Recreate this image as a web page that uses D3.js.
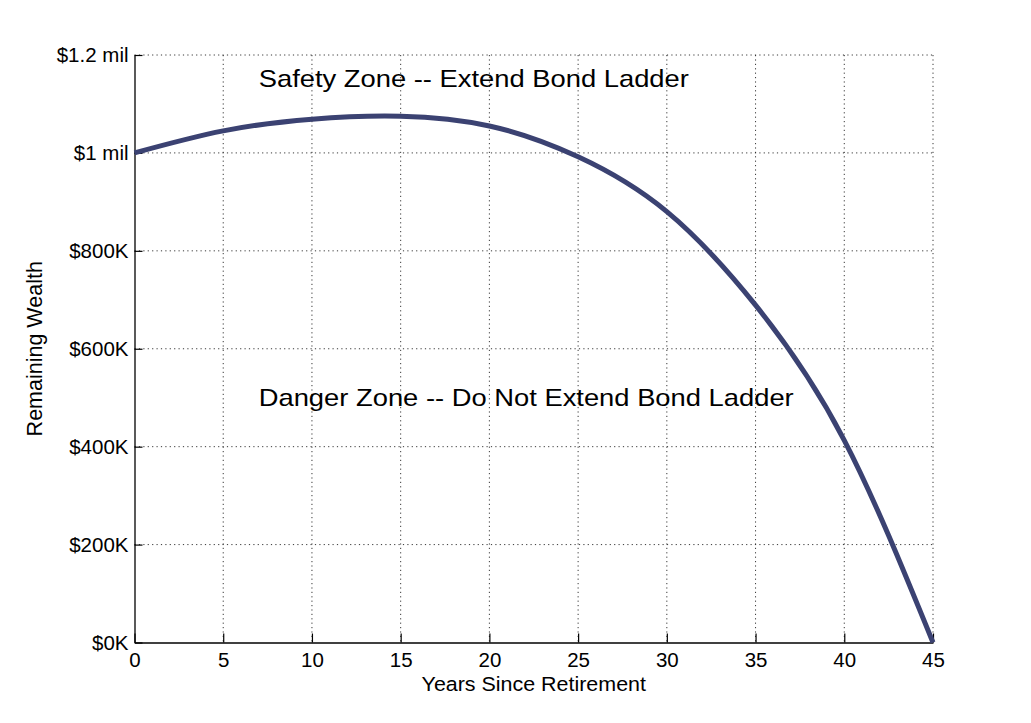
<!DOCTYPE html>
<html>
<head>
<meta charset="utf-8">
<script src="https://cdn.jsdelivr.net/npm/d3@7"></script>
<style>
  body { margin: 0; background: #fff; }
  text { font-family: "Liberation Sans", Arial, sans-serif; fill: #000; }
  .grid line { stroke: #222; stroke-width: 0.9; stroke-dasharray: 1.2,3.2; }
</style>
</head>
<body>
<div id="chart"></div>
<script>
var width = 1031;
var height = 723;
var margin = {left: 134.5, right: 98, top: 55, bottom: 80.5};

// values (wealth in $ millions)
var years = [0, 5, 10, 15, 20, 25, 30, 35, 40, 45];
var wealth = [1.000, 1.045, 1.069, 1.075, 1.055, 0.992, 0.880, 0.689, 0.413, 0.0];
var xTicks = [0, 5, 10, 15, 20, 25, 30, 35, 40, 45];
var yTicks = [0, 0.2, 0.4, 0.6, 0.8, 1.0, 1.2];
var yTickLabels = ['$0K', '$200K', '$400K', '$600K', '$800K', '$1 mil', '$1.2 mil'];
var zoneLabels = [
    {text: 'Safety Zone -- Extend Bond Ladder', year: 7, value: 1.134},
    {text: 'Danger Zone -- Do Not Extend Bond Ladder', year: 7, value: 0.484}
];

var w = width - margin.left - margin.right;
var h = height - margin.top - margin.bottom;

var svg = d3.select('#chart')
    .append('svg')
    .attr('width', width)
    .attr('height', height);

var chart = svg.append('g')
    .attr('transform', 'translate(' + margin.left + ',' + margin.top + ')');

var x = d3.scaleLinear().range([0, w]).domain([0, 45]);
var y = d3.scaleLinear().range([h, 0]).domain([0, 1.2]);

// dotted grid
chart.append('g')
    .attr('class', 'grid')
    .selectAll('line')
    .data(xTicks.slice(1))
    .enter().append('line')
    .attr('x1', function(d) { return x(d); })
    .attr('x2', function(d) { return x(d); })
    .attr('y1', 0)
    .attr('y2', h);
chart.append('g')
    .attr('class', 'grid')
    .selectAll('line')
    .data(yTicks.slice(1))
    .enter().append('line')
    .attr('x1', 0)
    .attr('x2', w)
    .attr('y1', function(d) { return y(d); })
    .attr('y2', function(d) { return y(d); });

var xAxis = d3.axisBottom(x).tickValues(xTicks).tickSizeInner(-9).tickSizeOuter(0).tickPadding(14);
var yAxis = d3.axisLeft(y).tickValues(yTicks).tickSizeInner(-8).tickSizeOuter(0).tickPadding(14)
    .tickFormat(function(d, i) { return yTickLabels[i]; });

var gx = chart.append('g')
    .attr('class', 'x axis')
    .attr('transform', 'translate(0,' + h + ')')
    .call(xAxis);
var gy = chart.append('g')
    .attr('class', 'y axis')
    .call(yAxis);

[gx, gy].forEach(function(g) {
    g.select('.domain').attr('stroke', '#000').attr('stroke-width', 1.3);
    g.selectAll('.tick line').attr('stroke', '#000').attr('stroke-width', 1.2);
    g.selectAll('.tick text')
        .style('font-size', '20.5px')
        .attr('font-family', null);
});
gx.selectAll('.tick text').attr('dy', '0.5em');
gy.selectAll('.tick text').attr('dx', '8px');

var line = d3.line()
    .x(function(d) { return x(d[0]); })
    .y(function(d) { return y(d[1]); })
    .curve(d3.curveNatural);

chart.append('path')
    .datum(d3.zip(years, wealth))
    .attr('fill', 'none')
    .attr('stroke', '#3b4272')
    .attr('stroke-width', 5)
    .attr('stroke-linejoin', 'round')
    .attr('d', line);

chart.selectAll('text.zone')
    .data(zoneLabels)
    .enter().append('text')
    .attr('class', 'zone')
    .attr('transform', function(d) {
        return 'translate(' + x(d.year) + ',' + y(d.value) + ') scale(1.14,1)';
    })
    .style('font-size', '24px')
    .text(function(d) { return d.text; });

svg.append('text')
    .attr('transform', 'translate(' + (margin.left + w / 2) + ',691) scale(1.1,1)')
    .attr('text-anchor', 'middle')
    .style('font-size', '19.5px')
    .text('Years Since Retirement');

svg.append('text')
    .attr('transform', 'translate(42,' + (margin.top + h / 2) + ') rotate(-90)')
    .attr('text-anchor', 'middle')
    .style('font-size', '21.5px')
    .text('Remaining Wealth');
</script>
</body>
</html>
